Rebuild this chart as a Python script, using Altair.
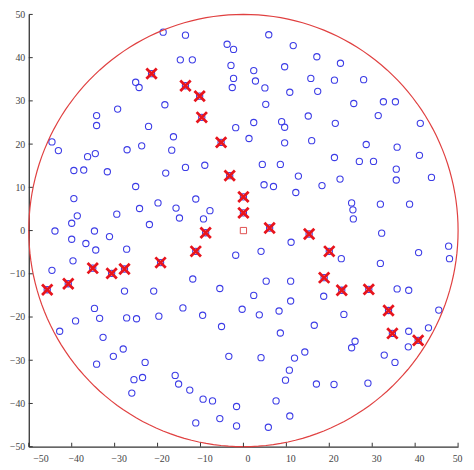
import altair as alt
import pandas as pd

# ---- data ----
blue_x = [-18.7, -25.1, -24.3, -18.3, -29.3, -34.2, -34.2, -22.1, -44.6, -43.1, -27.1, -23.7, -34.5, -36.3,
          -13.5, 5.9, -3.8, -2.3, 11.6, 17.1, -14.7, -11.9, -2.9, 9.6, 2.4, -2.3, 2.8, 15.7, -2.6, 5.0, 10.8, 17.3,
          5.2, 15.1, 2.4, 8.9, 9.6, -1.8, -16.3, 1.3, 9.6, 15.9, -16.7,
          22.6, 21.2, 28.0, 25.7, 32.6, 35.4, 31.4, 21.4, 41.2, 28.6, 35.8, 21.2, 27.0, 30.3, 41.0,
          35.6, 22.5, 35.6, 43.8, 18.3, 25.2, 25.5, 25.6, 31.9, 38.7, 32.2, 47.8, 48.0, 40.8, 22.8, 31.9,
          18.7, 35.8, 38.5, 23.4, 45.5,
          -18.1, -13.5, -9.0, 4.4, 8.6, 12.8, 4.8, 7.0, 12.2, -19.9, -11.1, -15.7, -7.8, -14.9, -9.3, 11.1,
          4.1, -1.8, -11.8, -5.5, 5.3, 11.0, 2.4, 11.0, -14.1, -0.3, 8.3, -19.7, -9.5, 3.7,
          -39.5, -37.2, -31.7, -25.1, -39.5, -24.2, -38.7, -29.5, -40.0, -21.9, -43.9, -34.7, -31.2, -40.0,
          -36.7, -34.4, -27.2, -39.7, -44.6, -27.7, -20.9, -34.7,
          -39.1, -33.5, -27.2, -24.9, -42.8, -32.7, -28.0, -30.3, -34.2, -22.9, -25.5, -23.5, -26.0,
          -5.1, 8.6, 16.5, -3.4, 4.1, 11.9, 14.3, 10.7, 9.8, 17.0, -15.9, -15.1, -12.5, -9.4, -7.2, -1.6,
          7.6, -5.5, 10.8, -11.1, -1.6, 5.8,
          38.5, 43.1, 26.0, 25.2, 38.4, 32.8, 35.3, 21.1, 29.0]
blue_y = [45.9, 34.3, 33.1, 29.1, 28.1, 26.6, 24.3, 24.1, 20.5, 18.5, 18.7, 19.6, 17.8, 17.1,
          45.2, 45.3, 43.1, 41.9, 42.8, 40.2, 39.5, 39.5, 38.2, 37.9, 37.0, 35.2, 34.6, 35.2, 33.1, 33.0, 32.0, 32.2,
          29.2, 26.5, 25.0, 25.2, 23.9, 23.8, 21.7, 21.3, 20.3, 20.8, 18.6,
          38.7, 34.8, 34.9, 29.4, 29.8, 29.8, 26.6, 24.8, 24.8, 19.9, 19.3, 16.9, 16.0, 16.0, 17.4,
          14.2, 11.9, 11.7, 12.3, 10.4, 6.4, 4.8, 2.7, 6.1, 6.1, -0.6, -3.6, -6.5, -5.1, -6.5, -7.6,
          -15.2, -13.5, -13.8, -19.4, -18.4,
          13.3, 14.6, 15.1, 15.3, 15.3, 12.6, 10.6, 10.2, 8.8, 6.4, 7.3, 5.2, 4.6, 2.9, 2.7, -2.7,
          -4.8, -5.7, -11.2, -13.4, -11.7, -11.7, -15.0, -16.3, -17.9, -18.2, -18.6, -19.8, -19.6, -19.5,
          13.9, 14.0, 13.6, 10.2, 7.4, 5.1, 3.4, 3.8, 1.7, 1.4, -0.1, -0.1, -1.4, -2.0,
          -3.0, -4.5, -4.3, -7.0, -9.2, -14.0, -14.0, -18.0,
          -20.9, -20.3, -20.2, -20.4, -23.3, -24.7, -27.4, -29.1, -30.9, -30.5, -34.5, -34.0, -37.6,
          -22.2, -23.7, -21.9, -29.1, -29.4, -29.5, -28.1, -32.3, -34.6, -35.5, -33.5, -35.5, -36.9, -39.0, -39.4, -40.7,
          -39.4, -43.5, -42.9, -44.5, -45.2, -45.5,
          -23.3, -22.5, -25.6, -27.1, -26.9, -28.8, -30.5, -35.6, -35.3]

cross_x = [-21.4, -13.5, -10.2, -9.7, -5.2, -3.2, 0.0, 0.0, -8.8, 6.1, 15.3, -11.1, -19.3,
           -27.7, -30.7, -35.1, -40.8, -45.7, 20.0, 18.8, 22.9, 29.2, 33.8, 34.7, 40.7]
cross_y = [36.3, 33.5, 31.1, 26.2, 20.4, 12.7, 7.8, 4.1, -0.5, 0.6, -0.8, -4.8, -7.4,
           -8.9, -9.9, -8.7, -12.3, -13.7, -4.8, -10.9, -13.8, -13.6, -18.5, -23.8, -25.4]

center_x = [0.0]
center_y = [0.0]
radius = 50
tick_values = [-50, -40, -30, -20, -10, 0, 10, 20, 30, 40, 50]

# ---- chart ----
W, H = 434, 437
xs = alt.Scale(domain=[-50, 50], nice=False, zero=False)
ys = alt.Scale(domain=[-50, 50], nice=False, zero=False)

FONT = "Liberation Serif, Times New Roman, serif"
axis_common = dict(values=tick_values, ticks=False, grid=False, domainColor="#333333",
                   domainWidth=1.3, labelFont=FONT, labelFontSize=10,
                   labelColor="#444444", title=None)
XAX = alt.Axis(**axis_common, labelPadding=7, labelOffset=4)
YAX = alt.Axis(**axis_common, labelPadding=4)


def X(field):
    return alt.X(field, scale=xs, axis=XAX, title=None)


def Y(field):
    return alt.Y(field, scale=ys, axis=YAX, title=None)


blue_df = pd.DataFrame({"x": blue_x + cross_x, "y": blue_y + cross_y})
cross_df = pd.DataFrame({"x": cross_x, "y": cross_y})
center_df = pd.DataFrame({"x": center_x, "y": center_y})
ticks_df = pd.DataFrame({"v": tick_values})

blue = alt.Chart(blue_df).mark_point(shape="circle", filled=False, size=40, strokeWidth=1.1,
                                     color="#3c3ce6", opacity=1).encode(
    x=X("x:Q"), y=Y("y:Q"))

ring = alt.Chart(alt.sequence(0, 361, 2, as_="t")).transform_calculate(
    cx=f"{radius}*cos(datum.t*PI/180)", cy=f"{radius}*sin(datum.t*PI/180)"
).mark_line(color="#e04040", strokeWidth=1.2).encode(
    x=X("cx:Q"), y=Y("cy:Q"), order="t:Q")

xticks = alt.Chart(ticks_df).mark_rule(color="#333333", strokeWidth=1).encode(
    x=X("v:Q"), y=alt.value(H), y2=alt.value(H - 4))
yticks = alt.Chart(ticks_df).mark_rule(color="#333333", strokeWidth=1).encode(
    y=Y("v:Q"), x=alt.value(0), x2=alt.value(4))

square = alt.Chart(center_df).mark_point(shape="square", filled=False, size=40, strokeWidth=1,
                                         color="#e05050", opacity=1).encode(
    x=X("x:Q"), y=Y("y:Q"))

crosses = alt.Chart(cross_df).mark_point(shape="M -1 -1 L 1 1 M -1 1 L 1 -1", filled=False,
                                         size=110, strokeWidth=2.8, color="#e8141c",
                                         opacity=1).encode(
    x=X("x:Q"), y=Y("y:Q"))

chart = alt.layer(blue, ring, xticks, yticks, square, crosses).properties(
    width=W, height=H,
    padding={"left": 21, "top": 4, "right": 8, "bottom": 16},
    autosize=alt.AutoSizeParams(type="none"),
).configure_view(strokeWidth=0)

chart.save("out.html", embed_options={"renderer": "svg", "actions": False})
